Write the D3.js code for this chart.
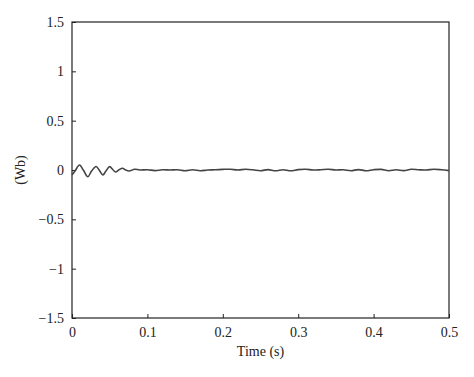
<!DOCTYPE html>
<html>
<head>
<meta charset="utf-8">
<script src="https://cdn.jsdelivr.net/npm/d3@7"></script>
<style>
  body { margin: 0; background: #fff; }
  svg text { font-family: "Liberation Serif", "DejaVu Serif", serif; fill: #222; }
</style>
</head>
<body>
<div id="chart"></div>
<script>
// Data
const timeValues = [
  0, 0.004, 0.010, 0.015, 0.021, 0.026, 0.032, 0.036, 0.041, 0.045,
  0.050, 0.054, 0.058, 0.062, 0.067, 0.071, 0.076, 0.083, 0.09,
  0.10, 0.11, 0.12, 0.13, 0.14, 0.15, 0.16, 0.17, 0.18, 0.19,
  0.20, 0.21, 0.22, 0.23, 0.24, 0.25, 0.26, 0.27, 0.28, 0.29,
  0.30, 0.31, 0.32, 0.33, 0.34, 0.35, 0.36, 0.37, 0.38, 0.39,
  0.40, 0.41, 0.42, 0.43, 0.44, 0.45, 0.46, 0.47, 0.48, 0.49, 0.50
];
const fluxValues = [
  -0.05, -0.01, 0.05, 0.0, -0.068, -0.01, 0.035, 0.0, -0.05, -0.01,
  0.034, 0.005, -0.02, 0.0, 0.018, 0.0, -0.01, 0.008, 0.0,
  0.003, -0.006, 0.002, 0.0, 0.002, -0.008, 0.002, -0.008, 0.0, 0.002,
  0.006, 0.008, 0.0, 0.007, 0.002, -0.007, 0.004, -0.008, 0.003, -0.008,
  0.004, 0.008, 0.0, 0.003, 0.007, 0.0, 0.002, -0.007, 0.004, -0.007,
  0.003, 0.006, -0.007, 0.002, -0.006, 0.007, 0.002, 0.0, 0.007, 0.002, -0.006
];
const xTicks = [0, 0.1, 0.2, 0.3, 0.4, 0.5];
const yTicks = [1.5, 1, 0.5, 0, -0.5, -1, -1.5];

const width = 474, height = 377;
const margin = { top: 22, right: 25, bottom: 59, left: 72 };
const innerW = width - margin.left - margin.right;
const innerH = height - margin.top - margin.bottom;

const svg = d3.select('#chart').append('svg')
  .attr('width', width)
  .attr('height', height);

const g = svg.append('g')
  .attr('transform', `translate(${margin.left},${margin.top})`);

const x = d3.scaleLinear().domain([0, 0.5]).range([0, innerW]);
const y = d3.scaleLinear().domain([-1.5, 1.5]).range([innerH, 0]);

// Axes with inward ticks
const xAxis = d3.axisBottom(x).tickValues(xTicks).tickSize(-4).tickPadding(9)
  .tickFormat(d => d === 0 ? '0' : String(d));
const yAxis = d3.axisLeft(y).tickValues(yTicks).tickSize(-4).tickPadding(8)
  .tickFormat(d => d < 0 ? '\u2212' + String(-d) : String(d));

g.append('g')
  .attr('transform', `translate(0,${innerH})`)
  .call(xAxis)
  .call(a => a.select('.domain').remove())
  .selectAll('text').style('font-size', '14px');

g.append('g')
  .call(yAxis)
  .call(a => a.select('.domain').remove())
  .selectAll('text').style('font-size', '14px');

g.selectAll('.tick line').attr('stroke', '#222');

// Box
g.append('rect')
  .attr('width', innerW)
  .attr('height', innerH)
  .attr('fill', 'none')
  .attr('stroke', '#222')
  .attr('stroke-width', 1.2);

// Signal
const points = timeValues.map((t, i) => [t, fluxValues[i]]);
const line = d3.line()
  .x(d => x(d[0]))
  .y(d => y(d[1]))
  .curve(d3.curveCatmullRom);

g.append('path')
  .datum(points)
  .attr('fill', 'none')
  .attr('stroke', '#444')
  .attr('stroke-width', 1.6)
  .attr('d', line);

// Labels
svg.append('text')
  .attr('x', margin.left + innerW / 2)
  .attr('y', 356)
  .attr('text-anchor', 'middle')
  .style('font-size', '14px')
  .text('Time (s)');

svg.append('text')
  .attr('transform', `translate(25,${margin.top + innerH / 2}) rotate(-90)`)
  .attr('text-anchor', 'middle')
  .style('font-size', '14px')
  .text('(Wb)');
</script>
</body>
</html>
